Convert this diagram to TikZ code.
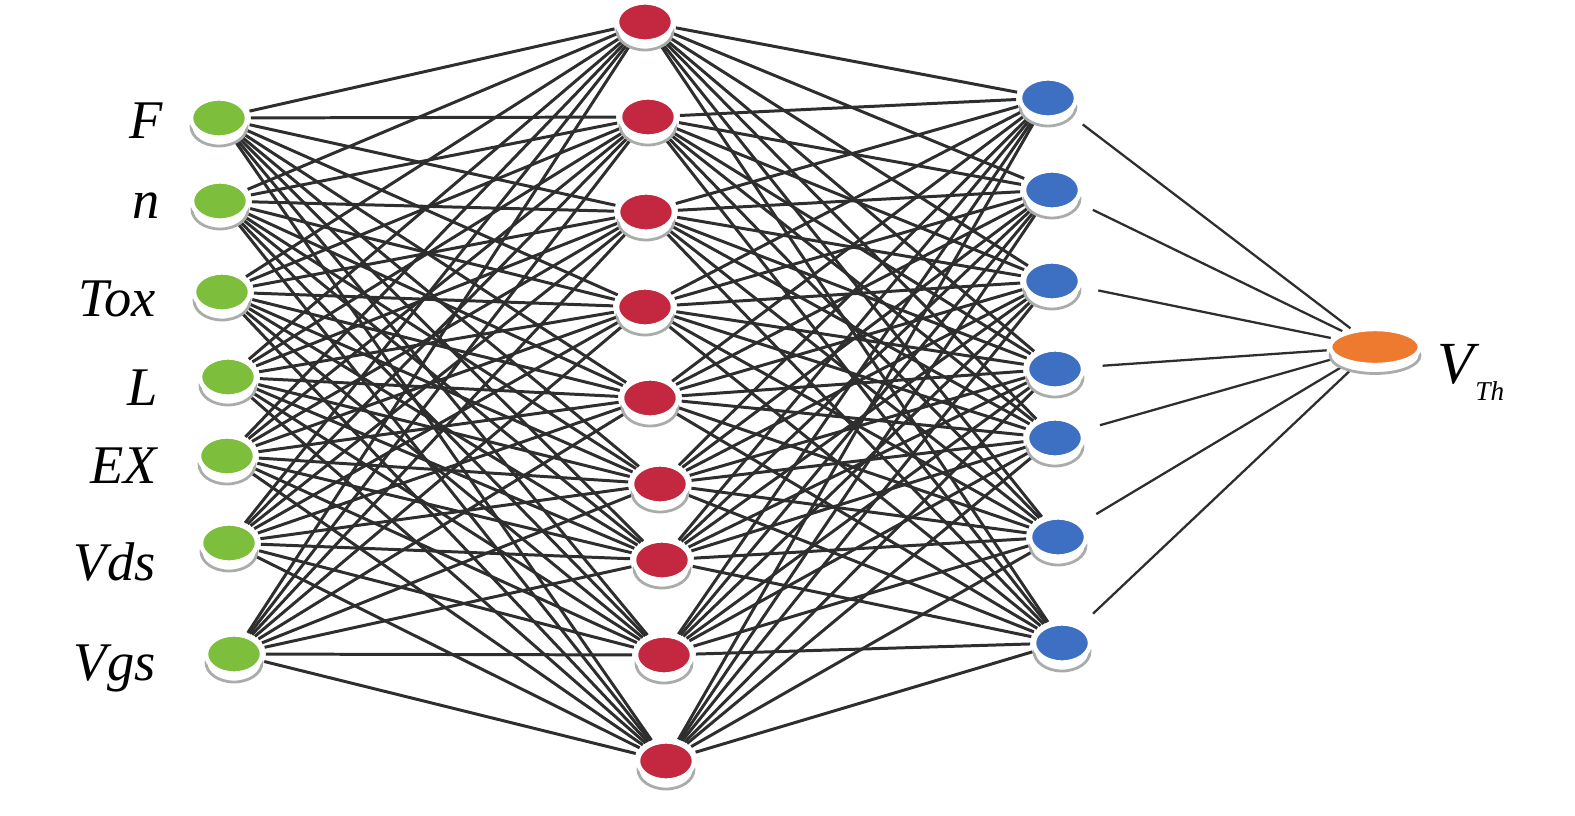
\documentclass[tikz,border=0pt]{standalone}
\usepackage{fontspec}
\setmainfont{Liberation Serif}
\usetikzlibrary{shapes.geometric,backgrounds}
\definecolor{gr}{HTML}{7DBE3C}
\definecolor{rd}{HTML}{C42840}
\definecolor{bl}{HTML}{3D6FC2}
\definecolor{org}{HTML}{EE7A30}
\definecolor{rim}{HTML}{A9ADA9}
\definecolor{edgec}{HTML}{2E2E2E}
\begin{document}
\begin{tikzpicture}[x=0.02cm,y=-0.02cm,
 neuron/.style={ellipse, inner sep=0pt, minimum width=1.12cm, minimum height=0.78cm,
   fill=#1, draw=white, line width=2.5pt,
   preaction={fill=white, draw=rim, line width=1.6pt, transform canvas={yshift=-0.17cm}}},
 outn/.style={neuron=org, minimum width=1.8cm, minimum height=0.72cm},
 conn/.style={draw=edgec, line width=1.7pt, shorten <=1pt, shorten >=1pt},
 lab/.style={font=\fontsize{31}{34}\selectfont\itshape, inner sep=0pt, anchor=base east}
]
\useasboundingbox (0,0) rectangle (1575,815);
% input layer
\node[neuron=gr] (g1) at (219,118) {};
\node[neuron=gr] (g2) at (220,201) {};
\node[neuron=gr] (g3) at (222,292) {};
\node[neuron=gr] (g4) at (228,377) {};
\node[neuron=gr] (g5) at (227,456) {};
\node[neuron=gr] (g6) at (229,543) {};
\node[neuron=gr] (g7) at (234,654) {};
% hidden layer 1
\node[neuron=rd] (r1) at (645,22) {};
\node[neuron=rd] (r2) at (648,117) {};
\node[neuron=rd] (r3) at (646,212) {};
\node[neuron=rd] (r4) at (645,307) {};
\node[neuron=rd] (r5) at (650,398) {};
\node[neuron=rd] (r6) at (660,484) {};
\node[neuron=rd] (r7) at (662,560) {};
\node[neuron=rd] (r8) at (664,655) {};
\node[neuron=rd] (r9) at (666,761) {};
% hidden layer 2
\node[neuron=bl] (b1) at (1048,98) {};
\node[neuron=bl] (b2) at (1052,190) {};
\node[neuron=bl] (b3) at (1052,281) {};
\node[neuron=bl] (b4) at (1055,369) {};
\node[neuron=bl] (b5) at (1055,438) {};
\node[neuron=bl] (b6) at (1058,537) {};
\node[neuron=bl] (b7) at (1062,643) {};
% output
\node[outn] (o) at (1375,347) {};
% labels
\node[lab] (lF) at (163,138) {F};
\node[lab] (ln) at (160,218) {n};
\node[lab] (lTox) at (156,316) {Tox};
\node[lab] (lL) at (158,405) {L};
\node[lab] (lEX) at (157,483) {EX};
\node[lab] (lVds) at (156,580) {Vds};
\node[lab] (lVgs) at (156,680) {Vgs};
\node[font=\fontsize{34}{36}\selectfont\itshape, inner sep=0pt, anchor=base west] (lV) at (1437,383) {V};
\node[font=\fontsize{15.5}{17}\selectfont\itshape, inner sep=0pt, anchor=base west] (lTh) at (1475,400) {Th};
% connections
\begin{scope}[on background layer]
\foreach \i in {1,...,7}
  \foreach \j in {1,...,9}
    \draw[conn] (g\i) -- (r\j);
\foreach \i in {1,...,9}
  \foreach \j in {1,...,7}
    \draw[conn] (r\i) -- (b\j);
\foreach \i in {1,...,7}
  \draw[conn, line width=1.3pt, shorten <=10pt] (b\i) -- (o);
\end{scope}
\end{tikzpicture}
\end{document}
